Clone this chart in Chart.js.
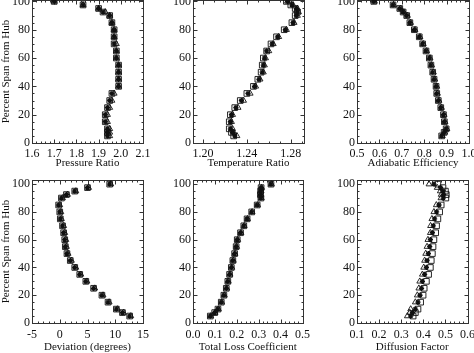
<!DOCTYPE html>
<html>
<head>
<meta charset="utf-8">
<script src="https://cdn.jsdelivr.net/npm/chart.js@4/dist/chart.umd.min.js"></script>
<style>
  html, body { margin: 0; padding: 0; background: #fff; }
  body { width: 474px; height: 353px; position: relative; overflow: hidden; }
  canvas { position: absolute; }
</style>
</head>
<body>
<canvas id="pressure"></canvas>
<canvas id="temperature"></canvas>
<canvas id="efficiency"></canvas>
<canvas id="deviation"></canvas>
<canvas id="loss"></canvas>
<canvas id="diffusion"></canvas>
<script>
// span positions shared by every panel (percent span from hub)
const spanLevels = [100, 97.5, 95, 92.5, 90, 85, 80, 75, 70, 65, 60, 55, 50, 45, 40, 35, 30, 25, 20, 15, 10, 7.5, 5];
const spanTicks = [0, 20, 40, 60, 80, 100];

// pressure ratio
const pressureSquares = [1.70, 1.83, 1.90, 1.92, 1.95, 1.96, 1.97, 1.97, 1.97, 1.98, 1.98, 1.99, 1.99, 1.99, 1.99, 1.96, 1.95, 1.94, 1.93, 1.93, 1.94, 1.94, 1.94];
const pressureTriangles = [1.70, 1.83, 1.90, 1.93, 1.95, 1.96, 1.97, 1.97, 1.98, 1.98, 1.98, 1.99, 1.99, 1.99, 1.99, 1.97, 1.96, 1.95, 1.94, 1.94, 1.95, 1.95, 1.95];
const pressureStars = [1.70, 1.83, 1.90, 1.92, 1.95, 1.96, 1.97, 1.97, 1.97, 1.98, 1.98, 1.99, 1.99, 1.99, 1.99, 1.96, 1.95, 1.94, 1.93, 1.93, 1.94, 1.94, 1.94];
const pressureTicks = [1.6, 1.7, 1.8, 1.9, 2.0, 2.1];
const pressureLabels = ["1.6", "1.7", "1.8", "1.9", "2.0", "2.1"];

// temperature ratio
const tempSquares = [1.276, 1.280, 1.284, 1.286, 1.284, 1.281, 1.274, 1.267, 1.262, 1.258, 1.255, 1.254, 1.253, 1.250, 1.246, 1.240, 1.234, 1.229, 1.225, 1.224, 1.224, 1.226, 1.228];
const tempTriangles = [1.277, 1.282, 1.286, 1.287, 1.286, 1.283, 1.276, 1.269, 1.264, 1.260, 1.257, 1.256, 1.255, 1.252, 1.248, 1.243, 1.237, 1.232, 1.227, 1.226, 1.227, 1.228, 1.231];
const tempStars = [1.277, 1.281, 1.285, 1.286, 1.285, 1.282, 1.275, 1.268, 1.263, 1.258, 1.256, 1.255, 1.254, 1.251, 1.247, 1.241, 1.235, 1.230, 1.226, 1.225, 1.225, 1.227, 1.229];
const tempTicks = [1.20, 1.24, 1.28];
const tempLabels = ["1.20", "1.24", "1.28"];

// adiabatic efficiency
const effSquares = [0.575, 0.661, 0.691, 0.706, 0.722, 0.736, 0.756, 0.778, 0.793, 0.808, 0.823, 0.830, 0.838, 0.844, 0.853, 0.856, 0.863, 0.874, 0.886, 0.890, 0.898, 0.889, 0.878];
const effTriangles = [0.578, 0.664, 0.694, 0.709, 0.725, 0.739, 0.759, 0.781, 0.796, 0.811, 0.826, 0.833, 0.841, 0.847, 0.856, 0.859, 0.866, 0.877, 0.889, 0.893, 0.901, 0.892, 0.881];
const effStars = [0.575, 0.661, 0.691, 0.706, 0.722, 0.736, 0.756, 0.778, 0.793, 0.808, 0.823, 0.830, 0.838, 0.844, 0.853, 0.856, 0.863, 0.874, 0.886, 0.890, 0.898, 0.889, 0.878];
const effTicks = [0.5, 0.6, 0.7, 0.8, 0.9, 1.0];
const effLabels = ["0.5", "0.6", "0.7", "0.8", "0.9", "1.0"];

// deviation (degrees)
const devSquares = [9.0, 5.0, 2.7, 1.2, 0.3, -0.2, 0.0, 0.1, 0.5, 0.7, 0.9, 1.0, 1.3, 1.9, 2.7, 3.6, 4.7, 6.1, 7.6, 8.7, 10.2, 11.3, 12.6];
const devTriangles = [9.2, 5.2, 2.9, 1.4, 0.5, 0.0, 0.2, 0.3, 0.7, 0.9, 1.1, 1.2, 1.5, 2.1, 2.9, 3.8, 4.9, 6.3, 7.8, 8.9, 10.4, 11.5, 12.8];
const devStars = [9.0, 5.0, 2.7, 1.2, 0.3, -0.2, 0.0, 0.1, 0.5, 0.7, 0.9, 1.0, 1.3, 1.9, 2.7, 3.6, 4.7, 6.1, 7.6, 8.7, 10.2, 11.3, 12.6];
const devTicks = [-5, 0, 5, 10, 15];
const devLabels = ["-5", "0", "5", "10", "15"];

// total loss coefficient
const lossSquares = [0.356, 0.311, 0.309, 0.308, 0.310, 0.293, 0.268, 0.247, 0.232, 0.217, 0.202, 0.197, 0.190, 0.182, 0.175, 0.167, 0.159, 0.152, 0.141, 0.129, 0.114, 0.099, 0.079];
const lossTriangles = [0.358, 0.313, 0.311, 0.310, 0.312, 0.295, 0.270, 0.249, 0.234, 0.219, 0.204, 0.199, 0.192, 0.184, 0.177, 0.169, 0.161, 0.154, 0.143, 0.131, 0.116, 0.101, 0.081];
const lossStars = [0.356, 0.311, 0.309, 0.308, 0.310, 0.293, 0.268, 0.247, 0.232, 0.217, 0.202, 0.197, 0.190, 0.182, 0.175, 0.167, 0.159, 0.152, 0.141, 0.129, 0.114, 0.099, 0.079];
const lossTicks = [0.0, 0.1, 0.2, 0.3, 0.4, 0.5];
const lossLabels = ["0.0", "0.1", "0.2", "0.3", "0.4", "0.5"];

// diffusion factor
const diffSquares = [0.466, 0.489, 0.500, 0.504, 0.502, 0.481, 0.474, 0.466, 0.460, 0.456, 0.448, 0.444, 0.441, 0.436, 0.432, 0.424, 0.414, 0.404, 0.399, 0.388, 0.376, 0.364, 0.354];
const diffTriangles = [0.426, 0.463, 0.477, 0.481, 0.480, 0.459, 0.448, 0.439, 0.433, 0.432, 0.421, 0.417, 0.411, 0.406, 0.402, 0.396, 0.384, 0.380, 0.373, 0.364, 0.343, 0.339, 0.328];
const diffStars = [0.448, 0.478, 0.489, 0.492, 0.490, 0.471, 0.460, 0.451, 0.445, 0.441, 0.432, 0.429, 0.423, 0.417, 0.414, 0.406, 0.396, 0.392, 0.385, 0.376, 0.364, 0.351, 0.343];
const diffTicks = [0.1, 0.2, 0.3, 0.4, 0.5, 0.6];
const diffLabels = ["0.1", "0.2", "0.3", "0.4", "0.5", "0.6"];

const serif = "'Liberation Serif', 'DejaVu Serif', serif";
const ink = "#111";

// closed frame with small inward ticks on all four sides
const frameTicks = {
    id: "frameTicks",
    beforeDatasetsDraw(chart) {
        const { ctx, chartArea: a, scales } = chart;
        const o = chart.options.plugins.frameTicks;
        const L = Math.round(a.left) + 0.5, R = Math.round(a.right) + 0.5;
        const T = Math.round(a.top) + 0.5, B = Math.round(a.bottom) + 0.5;
        ctx.save();
        ctx.strokeStyle = "#333";
        ctx.lineWidth = 1;
        ctx.strokeRect(L, T, R - L, B - T);
        ctx.beginPath();
        const xs = scales.x, ys = scales.y;
        const xStep = o.xMinor;
        for (let v = Math.ceil((xs.min - 1e-9) / xStep) * xStep; v <= xs.max + 1e-9; v += xStep) {
            const px = Math.round(xs.getPixelForValue(v)) + 0.5;
            const major = o.xMajor.some(m => Math.abs(m - v) < xStep / 4);
            const len = major ? 4 : 2;
            ctx.moveTo(px, B); ctx.lineTo(px, B - len);
            ctx.moveTo(px, T); ctx.lineTo(px, T + len);
        }
        for (let v = 0; v <= ys.max + 1e-9; v += 5) {
            const py = Math.round(ys.getPixelForValue(v)) + 0.5;
            const len = v % 20 === 0 ? 4 : 2;
            ctx.moveTo(L, py); ctx.lineTo(L + len, py);
            ctx.moveTo(R, py); ctx.lineTo(R - len, py);
        }
        ctx.stroke();
        ctx.restore();
    },
};

function makePanel(id, box, xRange, xTicks, xLabels, xMinor, title, squares, triangles, stars, yTitle) {
    const yw = 32, pt = 10, pr = 12;
    const canvas = document.getElementById(id);
    const w = box.right - box.left + yw + pr;
    const h = box.bottom - box.top + pt + box.xh;
    canvas.width = w;
    canvas.height = h;
    canvas.style.width = w + "px";
    canvas.style.height = h + "px";
    canvas.style.left = (box.left - yw) + "px";
    canvas.style.top = (box.top - pt) + "px";

    const toPoints = xs => xs.map((x, i) => ({ x: x, y: spanLevels[i] }));

    new Chart(canvas, {
        type: "scatter",
        data: {
            datasets: [
                { data: toPoints(triangles), pointStyle: "triangle", pointRadius: 3.4, borderColor: ink, backgroundColor: "rgba(0,0,0,0)", borderWidth: 0.9 },
                { data: toPoints(squares), pointStyle: "rect", pointRadius: 4, borderColor: ink, backgroundColor: "rgba(0,0,0,0)", borderWidth: 0.9 },
                { data: toPoints(stars), pointStyle: "star", pointRadius: 2.6, borderColor: ink, backgroundColor: ink, borderWidth: 1.3 },
            ],
        },
        options: {
            responsive: false,
            animation: false,
            events: [],
            clip: false,
            layout: { padding: { top: pt, right: pr, left: 0, bottom: 0 } },
            plugins: {
                legend: { display: false },
                tooltip: { enabled: false },
                frameTicks: { xMinor: xMinor, xMajor: xTicks },
            },
            scales: {
                x: {
                    type: "linear",
                    min: xRange[0],
                    max: xRange[1],
                    grid: { display: false, drawTicks: false },
                    border: { display: false },
                    afterBuildTicks: s => { s.ticks = xTicks.map(v => ({ value: v })); },
                    afterFit: s => { s.height = box.xh; },
                    ticks: {
                        autoSkip: false,
                        maxRotation: 0,
                        padding: box.labelPad,
                        color: ink,
                        font: { family: serif, size: 12 },
                        callback: (v, i) => xLabels[i],
                    },
                    title: {
                        display: true,
                        text: title,
                        color: ink,
                        padding: 0,
                        font: { family: serif, size: 11 },
                    },
                },
                y: {
                    type: "linear",
                    min: 0,
                    max: box.yMax,
                    grid: { display: false, drawTicks: false },
                    border: { display: false },
                    afterBuildTicks: s => { s.ticks = spanTicks.map(v => ({ value: v })); },
                    afterFit: s => { s.width = yw; },
                    ticks: {
                        padding: 2,
                        color: ink,
                        font: { family: serif, size: 12 },
                    },
                    title: {
                        display: yTitle,
                        text: "Percent Span from Hub",
                        color: ink,
                        padding: 0,
                        font: { family: serif, size: 11 },
                    },
                },
            },
        },
        plugins: [frameTicks],
    });
}

const topRow = { top: 0, bottom: 143, xh: 27, labelPad: 4, yMax: 101 };
const bottomRow = { top: 180, bottom: 323, xh: 31, labelPad: 5, yMax: 103 };

makePanel("pressure", { ...topRow, left: 32, right: 143 }, [1.6, 2.1], pressureTicks, pressureLabels, 0.02,
    "Pressure Ratio", pressureSquares, pressureTriangles, pressureStars, true);
makePanel("temperature", { ...topRow, left: 193, right: 304 }, [1.191, 1.292], tempTicks, tempLabels, 0.01,
    "Temperature Ratio", tempSquares, tempTriangles, tempStars, false);
makePanel("efficiency", { ...topRow, left: 357, right: 469 }, [0.5, 1.0], effTicks, effLabels, 0.02,
    "Adiabatic Efficiency", effSquares, effTriangles, effStars, false);
makePanel("deviation", { ...bottomRow, left: 32, right: 143 }, [-5, 15], devTicks, devLabels, 1,
    "Deviation (degrees)", devSquares, devTriangles, devStars, true);
makePanel("loss", { ...bottomRow, left: 193, right: 303 }, [0.0, 0.5], lossTicks, lossLabels, 0.02,
    "Total Loss Coefficient", lossSquares, lossTriangles, lossStars, false);
makePanel("diffusion", { ...bottomRow, left: 357, right: 468 }, [0.1, 0.6], diffTicks, diffLabels, 0.02,
    "Diffusion Factor", diffSquares, diffTriangles, diffStars, false);
</script>
</body>
</html>
